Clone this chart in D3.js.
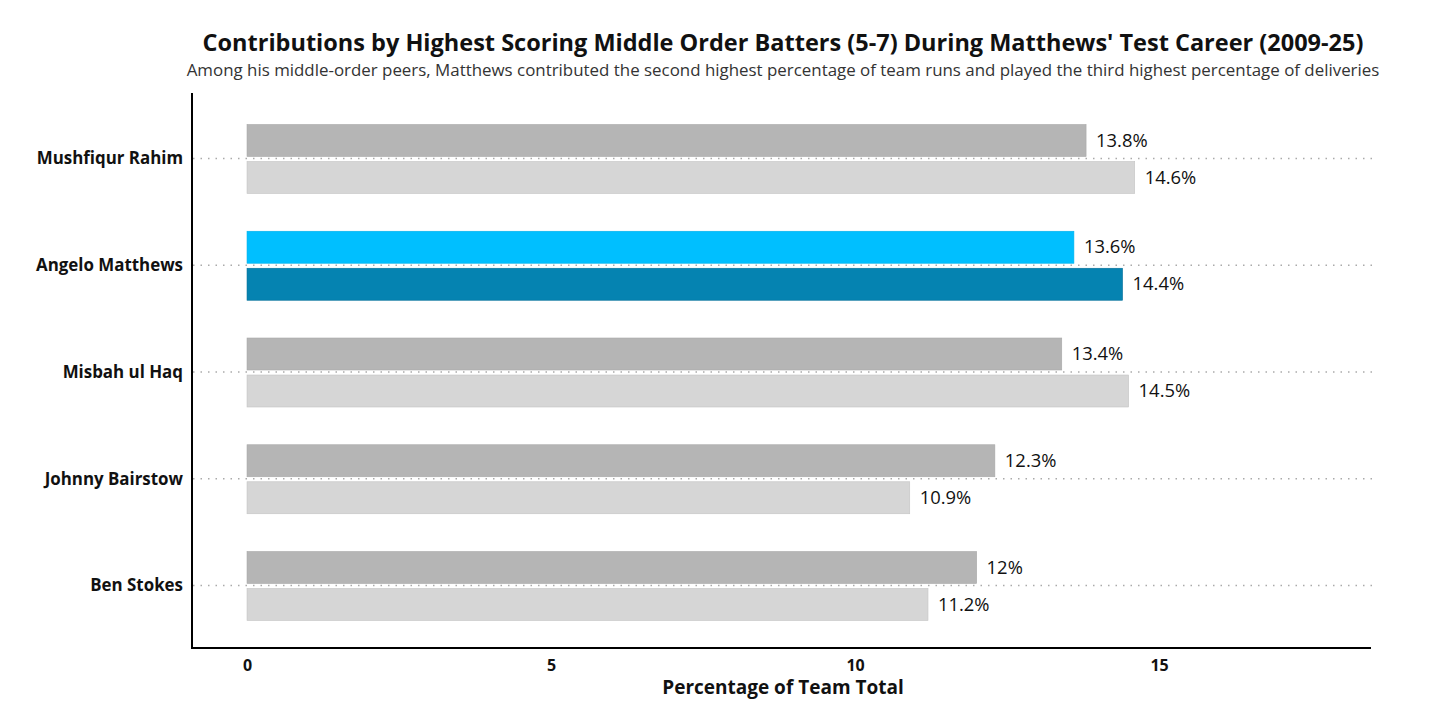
<!DOCTYPE html>
<html><head><meta charset="utf-8">
<script src="https://cdn.jsdelivr.net/npm/d3@7"></script>
<style>body{margin:0;background:#fff;font-family:"Open Sans",sans-serif;}</style>
</head><body>
<script>
const players = ["Mushfiqur Rahim","Angelo Matthews","Misbah ul Haq","Johnny Bairstow","Ben Stokes"];
const runsPct = [13.8, 13.6, 13.4, 12.3, 12.0];
const ballsPct = [14.6, 14.4, 14.5, 10.9, 11.2];
const runsLabels = ["13.8%","13.6%","13.4%","12.3%","12%"];
const ballsLabels = ["14.6%","14.4%","14.5%","10.9%","11.2%"];
const xTicks = [0,5,10,15];
const highlight = "Angelo Matthews";

const W=1456,H=728;
const svg=d3.select("body").append("svg").attr("width",W).attr("height",H);
const x=d3.scaleLinear().domain([-0.905,18.47]).range([192,1370]);
const y=d3.scalePoint().domain(players).range([158.5,585.5]);
const bh=32, gap=5;

svg.append("text").attr("x",783).attr("y",51).attr("text-anchor","middle")
 .style("font-size","23.5px").style("font-weight",700).attr("fill","#111")
 .text("Contributions by Highest Scoring Middle Order Batters (5-7) During Matthews' Test Career (2009-25)");
svg.append("text").attr("x",783).attr("y",76).attr("text-anchor","middle")
 .style("font-size","16.9px").attr("fill","#333")
 .text("Among his middle-order peers, Matthews contributed the second highest percentage of team runs and played the third highest percentage of deliveries");

// gridlines
svg.append("g").selectAll("line").data(players).join("line")
 .attr("x1",193).attr("x2",1372).attr("y1",d=>y(d)).attr("y2",d=>y(d))
 .attr("stroke","#aaa").attr("stroke-width",1.3).attr("stroke-dasharray","1.5,6");

const g=svg.append("g");
g.selectAll("rect.r").data(players).join("rect").attr("class","r")
 .attr("x",x(0)).attr("y",d=>y(d)-bh-gap/2+0.5).attr("height",bh)
 .attr("width",(d,i)=>x(runsPct[i])-x(0))
 .attr("fill",d=>d===highlight?"#00bfff":"#b5b5b5")
 .attr("stroke",d=>d===highlight?"#00b0ea":"#a8a8a8").attr("stroke-width",0.6);
g.selectAll("rect.b").data(players).join("rect").attr("class","b")
 .attr("x",x(0)).attr("y",d=>y(d)+gap/2+0.5).attr("height",bh)
 .attr("width",(d,i)=>x(ballsPct[i])-x(0))
 .attr("fill",d=>d===highlight?"#0583b1":"#d6d6d6")
 .attr("stroke",d=>d===highlight?"#05709a":"#c4c4c4").attr("stroke-width",0.6);

g.selectAll("text.rl").data(players).join("text").attr("class","rl")
 .attr("x",(d,i)=>x(runsPct[i])+10).attr("y",d=>y(d)-bh/2-gap/2+6.5)
 .style("font-size","18.4px").attr("fill","#111").text((d,i)=>runsLabels[i]);
g.selectAll("text.bl").data(players).join("text").attr("class","bl")
 .attr("x",(d,i)=>x(ballsPct[i])+10).attr("y",d=>y(d)+bh/2+gap/2+6.5)
 .style("font-size","18.4px").attr("fill","#111").text((d,i)=>ballsLabels[i]);

// axes
const xa=svg.append("g").attr("transform","translate(0,648)")
 .call(d3.axisBottom(x).tickValues(xTicks).tickSize(0).tickPadding(12).tickFormat(d3.format("d")));
xa.select(".domain").attr("stroke","#000").attr("stroke-width",2).attr("d","M192,0H1371");
xa.selectAll("text").style("font-size","16px").style("font-weight",700).attr("fill","#111").style("font-family","Open Sans");
const ya=svg.append("g").attr("transform","translate(192,0)")
 .call(d3.axisLeft(y).tickSize(0).tickPadding(9));
ya.select(".domain").attr("stroke","#000").attr("stroke-width",2).attr("d","M0,93V649");
ya.selectAll("text").style("font-size","16.9px").style("font-weight",700).attr("fill","#111").style("font-family","Open Sans");

svg.append("text").attr("x",783).attr("y",693.5).attr("text-anchor","middle")
 .style("font-size","19px").style("font-weight",700).attr("fill","#111").text("Percentage of Team Total");
</script>
</body></html>
